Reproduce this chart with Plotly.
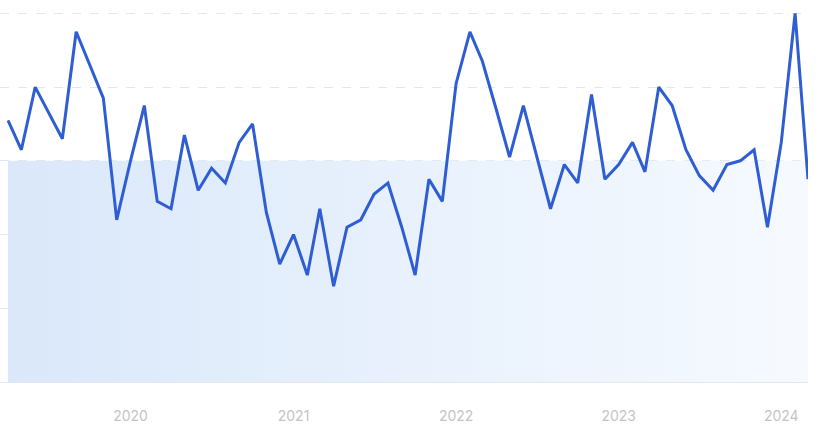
import pandas as pd
import plotly.graph_objects as go

# monthly interest, Apr 2019 - Mar 2024
months = pd.date_range("2019-04-01", "2024-03-01", freq="MS")
values = [
    71, 63, 80, 73, 66, 95, 86, 77, 44, 60,
    75, 49, 47, 67, 52, 58, 54, 65, 70, 46,
    32, 40, 29, 47, 26, 42, 44, 51, 54, 42,
    29, 55, 49, 81, 95, 87, 74, 61, 75, 61,
    47, 59, 54, 78, 55, 59, 65, 57, 80, 75,
    63, 56, 52, 59, 60, 63, 42, 65, 100, 55,
]
band_top = 60
tick_years = ["2020", "2021", "2022", "2023", "2024"]
grid_vals = [0, 20, 40, 60, 80, 100]

fig = go.Figure()

# shaded band under the 60 line
fig.add_trace(go.Scatter(
    x=[months[0], months[-1]], y=[band_top, band_top],
    mode="lines", line=dict(width=0), fill="tozeroy",
    fillgradient=dict(type="horizontal",
                      colorscale=[[0, "rgba(218,232,250,1)"], [1, "rgba(246,250,255,1)"]]),
    hoverinfo="skip", showlegend=False,
))

fig.add_trace(go.Scatter(
    x=months, y=values, mode="lines",
    line=dict(color="#2f5ed3", width=3),
    showlegend=False,
))

fig.update_layout(
    width=818, height=426,
    margin=dict(l=0, r=10, t=6, b=44),
    paper_bgcolor="white", plot_bgcolor="white",
    font=dict(family="Inter", size=14, color="#c4c4c4"),
)
fig.update_xaxes(
    range=["2019-03-14", "2024-03-01"],
    tickvals=[pd.Timestamp(y + "-01-01") for y in tick_years],
    ticktext=tick_years,
    showgrid=False, zeroline=False,
    showline=True, linecolor="#e3e8ef", linewidth=1,
    ticks="", ticklabelstandoff=21, automargin=False,
)
fig.update_yaxes(
    range=[0, 102], tickvals=grid_vals, showticklabels=False,
    showgrid=True, gridcolor="#e1e7ee", griddash="dash", gridwidth=1,
    zeroline=False, automargin=False,
)

# drop the page's default body margin so the chart sits flush
fig.write_html("out.html", config={"displayModeBar": False},
               post_script="document.body.style.margin='0';")
